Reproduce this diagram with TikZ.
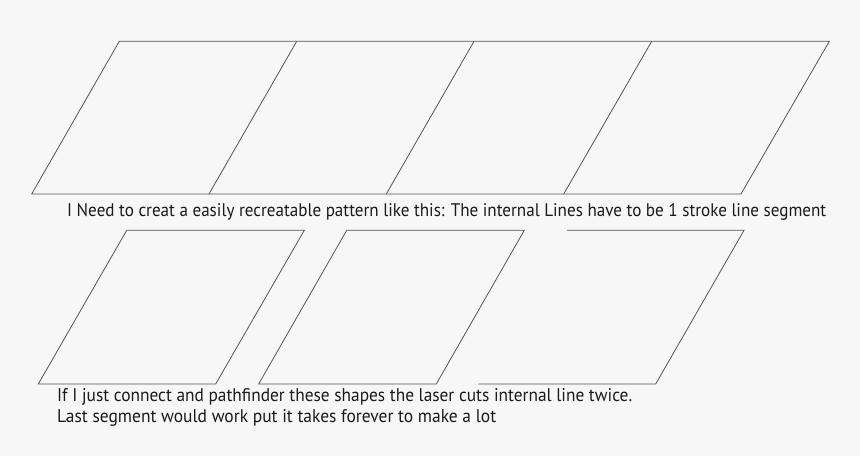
\documentclass[tikz,border=0pt]{standalone}
\usepackage{fontspec}
\setmainfont{PT Sans}
\definecolor{bg}{HTML}{F7F7F7}
\definecolor{ln}{HTML}{555555}
\definecolor{tx}{HTML}{1A1A1A}
\begin{document}
\begin{tikzpicture}[x=1pt,y=-1pt,
  edge/.style={draw=ln,line width=0.8pt,line join=miter},
  lbl/.style={text=tx,anchor=base west,inner sep=0pt,font=\fontsize{14.6}{17}\selectfont}]
\fill[bg] (0,0) rectangle (860,456);
\useasboundingbox (0,0) rectangle (860,456);
% top row
\coordinate (t1) at (119.3,41.3);
\coordinate (t2) at (296.7,41.3);
\coordinate (t3) at (474.0,41.3);
\coordinate (t4) at (651.7,41.3);
\coordinate (t5) at (829.3,41.3);
\coordinate (b1) at (31.7,194);
\coordinate (b2) at (209.0,194);
\coordinate (b3) at (386.3,194);
\coordinate (b4) at (563.7,194);
\coordinate (b5) at (741.0,194);
\draw[edge] (t1) -- (t5) -- (b5) -- (b1) -- cycle;
\draw[edge] (t2) -- (b2);
\draw[edge] (t3) -- (b3);
\draw[edge] (t4) -- (b4);
% bottom row
\draw[edge] (126.7,230.3) -- (304.3,230.3) -- (215.7,384) -- (38.3,384) -- cycle;
\draw[edge] (346.7,230.3) -- (524.3,230.3) -- (436.3,384) -- (258.7,384) -- cycle;
\draw[edge] (567,230.3) -- (744,230.3) -- (655.7,384) -- (478.3,384);
% texts
\node[lbl] (txt1) at (67,216.5) {\resizebox{759pt}{13pt}{I Need to creat a easily recreatable pattern like this: The internal Lines have to be 1 stroke line segment}};
\node[lbl] (txt2) at (57,401.5) {\resizebox{575pt}{13pt}{If I just connect and pathfinder these shapes the laser cuts internal line twice.}};
\node[lbl] (txt3) at (57,422.5) {\resizebox{439pt}{13pt}{Last segment would work put it takes forever to make a lot}};
\end{tikzpicture}
\end{document}
